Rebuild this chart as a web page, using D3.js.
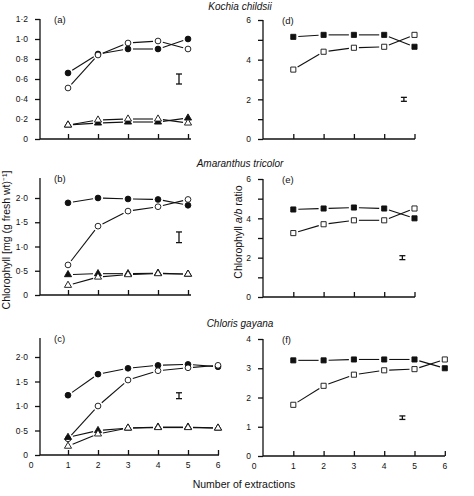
<!DOCTYPE html>
<html lang="en">
<head>
<meta charset="UTF-8">
<script src="https://d3js.org/d3.v7.min.js"></script>
<style>
body{margin:0;background:#fff}
text{font-family:"Liberation Sans",Arial,sans-serif;fill:#111}
</style>
</head>
<body>
<svg width="474" height="496"></svg>
<script>
// data
var extractions5 = [1, 2, 3, 4, 5];
var extractions6 = [1, 2, 3, 4, 5, 6];

var aTotalFresh = [0.66, 0.85, 0.90, 0.90, 1.00];
var aTotalFrozen = [0.51, 0.84, 0.96, 0.98, 0.90];
var aTriFilled = [0.14, 0.16, 0.17, 0.17, 0.21];
var aTriOpen = [0.14, 0.19, 0.20, 0.20, 0.16];

var bTotalFresh = [1.90, 2.00, 1.98, 1.97, 1.85];
var bTotalFrozen = [0.62, 1.42, 1.73, 1.82, 1.97];
var bTriFilled = [0.42, 0.44, 0.44, 0.45, 0.43];
var bTriOpen = [0.20, 0.37, 0.42, 0.44, 0.43];

var cTotalFresh = [1.22, 1.65, 1.77, 1.83, 1.85, 1.80];
var cTotalFrozen = [0.33, 1.00, 1.53, 1.72, 1.78, 1.83];
var cTriFilled = [0.36, 0.50, 0.55, 0.57, 0.57, 0.55];
var cTriOpen = [0.18, 0.43, 0.55, 0.56, 0.56, 0.55];

var dFilled = [5.15, 5.25, 5.25, 5.25, 4.65];
var dOpen = [3.50, 4.40, 4.60, 4.65, 5.25];
var eFilled = [4.45, 4.50, 4.55, 4.50, 4.00];
var eOpen = [3.25, 3.70, 3.90, 3.90, 4.50];
var fFilled = [3.27, 3.27, 3.30, 3.30, 3.30, 3.00];
var fOpen = [1.75, 2.40, 2.78, 2.93, 2.97, 3.30];

var errA = [4.7, 0.55, 0.65], errB = [4.7, 1.08, 1.30], errC = [4.7, 1.15, 1.27];
var errD = [4.65, 1.9, 2.1], errE = [4.6, 1.9, 2.1], errF = [4.6, 1.25, 1.37];

var svg = d3.select('svg');
var fmt = function (d) { return d === 0 ? '0' : d3.format('.1f')(d).replace('.', '\u00b7'); };
var even = function (d) { return d % 2 ? '' : d; };

var panels = [
  {lab:'(a)', x0:40, x1:191, top:19, bot:139, ymax:1.2, ymaxPx:19, ticks:[0,0.2,0.4,0.6,0.8,1.0,1.2], fmt:fmt, xs:extractions5, xlab:false,
   series:[[aTotalFresh,'circle',1],[aTotalFrozen,'circle',0],[aTriFilled,'tri',1],[aTriOpen,'tri',0]], err:errA, left:true},
  {lab:'(b)', x0:40, x1:191, top:178, bot:295, ymax:2.0, ymaxPx:198, ticks:[0,0.5,1.0,1.5,2.0], fmt:fmt, xs:extractions5, xlab:false,
   series:[[bTotalFresh,'circle',1],[bTotalFrozen,'circle',0],[bTriFilled,'tri',1],[bTriOpen,'tri',0]], err:errB, left:true},
  {lab:'(c)', x0:40, x1:219, top:338, bot:455, ymax:2.0, ymaxPx:357, ticks:[0,0.5,1.0,1.5,2.0], fmt:fmt, xs:extractions6, xlab:true,
   series:[[cTotalFresh,'circle',1],[cTotalFrozen,'circle',0],[cTriFilled,'tri',1],[cTriOpen,'tri',0]], err:errC, left:true},
  {lab:'(d)', x0:263, x1:415, top:20, bot:139, ymax:6, ymaxPx:20, ticks:[0,1,2,3,4,5,6], fmt:even, xs:extractions5, xlab:false,
   series:[[dFilled,'sq',1],[dOpen,'sq',0]], err:errD},
  {lab:'(e)', x0:263, x1:415, top:179, bot:297, ymax:6, ymaxPx:179, ticks:[0,1,2,3,4,5,6], fmt:even, xs:extractions5, xlab:false,
   series:[[eFilled,'sq',1],[eOpen,'sq',0]], err:errE},
  {lab:'(f)', x0:263, x1:445, top:339, bot:456, ymax:4, ymaxPx:339, ticks:[0,1,2,3,4], fmt:function(d){return d;}, xs:extractions6, xlab:true,
   series:[[fFilled,'sq',1],[fOpen,'sq',0]], err:errF}
];

panels.forEach(function (p) {
  var ox = p.left ? 38 : 263, unit = p.left ? 30 : 30.3;
  var x = d3.scaleLinear().domain([0, 1]).range([ox, ox + unit]);
  var y = d3.scaleLinear().domain([0, p.ymax]).range([p.bot, p.ymaxPx]);
  var g = svg.append('g');

  // y axis
  var yAx = g.append('g').attr('transform', 'translate(' + p.x0 + ',0)')
    .call(d3.axisLeft(y).tickValues(p.ticks).tickFormat(p.fmt).tickSize(5).tickPadding(7));
  yAx.select('.domain').attr('d', 'M0,' + p.top + 'V' + p.bot);
  // x axis (ticks pointing up)
  var xAx = g.append('g').attr('transform', 'translate(0,' + p.bot + ')')
    .call(d3.axisTop(x).tickValues(p.xs).tickSize(5).tickFormat(''));
  xAx.select('.domain').attr('d', 'M' + p.x0 + ',0H' + p.x1);
  g.selectAll('.domain, .tick line').attr('stroke', '#111').attr('stroke-width', 1.3);
  g.selectAll('.tick text').style('font-size', '8.5px').attr('fill', '#111');
  yAx.selectAll('.tick text').attr('dy', '0.32em');
  if (p.xlab) {
    g.selectAll('.xl').data([0].concat(p.xs)).enter().append('text')
      .attr('x', function (d) { return d === 0 ? p.x0 - 9 : x(d); })
      .attr('y', p.bot + 13).attr('text-anchor', 'middle').style('font-size', '8.5px').text(function (d) { return d; });
  }
  g.append('text').attr('x', p.left ? 54 : 282).attr('y', p.top + 4).style('font-size', '9.5px').text(p.lab);

  // lines with gaps near markers
  var gap = 5;
  p.series.forEach(function (s) {
    var pts = p.xs.map(function (v, i) { return [x(v), y(s[0][i])]; });
    for (var i = 0; i < pts.length - 1; i++) {
      var a = pts[i], b = pts[i + 1];
      var dx = b[0] - a[0], dy = b[1] - a[1], len = Math.sqrt(dx * dx + dy * dy);
      var ux = dx / len, uy = dy / len;
      g.append('line').attr('x1', a[0] + ux * gap).attr('y1', a[1] + uy * gap)
        .attr('x2', b[0] - ux * gap).attr('y2', b[1] - uy * gap)
        .attr('stroke', '#111').attr('stroke-width', 1.1);
    }
  });
  // markers
  p.series.forEach(function (s) {
    var fill = s[2] ? '#111' : '#fff';
    var sym = s[1] === 'circle' ? d3.symbolCircle : s[1] === 'tri' ? d3.symbolTriangle : d3.symbolSquare;
    var size = s[1] === 'tri' ? 22 : 26;
    g.selectAll(null).data(s[0]).enter().append('path')
      .attr('transform', function (d, i) { return 'translate(' + x(p.xs[i]) + ',' + y(d) + ')'; })
      .attr('d', d3.symbol().type(sym).size(size))
      .attr('fill', fill).attr('stroke', '#111').attr('stroke-width', 0.9);
  });
  // error bar
  var ex = x(p.err[0]);
  var eb = g.append('g').attr('stroke', '#111').attr('stroke-width', 1.3);
  eb.append('line').attr('x1', ex).attr('x2', ex).attr('y1', y(p.err[1])).attr('y2', y(p.err[2]));
  [p.err[1], p.err[2]].forEach(function (v) {
    eb.append('line').attr('x1', ex - 3).attr('x2', ex + 3).attr('y1', y(v)).attr('y2', y(v));
  });
});

// titles and axis labels
[['Kochia childsii', 10], ['Amaranthus tricolor', 167], ['Chloris gayana', 327]].forEach(function (t) {
  svg.append('text').attr('x', 240).attr('y', t[1]).attr('text-anchor', 'middle')
    .style('font-size', '10px').style('font-style', 'italic').text(t[0]);
});
svg.append('text').attr('transform', 'translate(10,240) rotate(-90)').attr('text-anchor', 'middle')
  .style('font-size', '10.5px').text('Chlorophyll [mg (g fresh wt)\u207b\u00b9]');
var rl = svg.append('text').attr('transform', 'translate(242,232) rotate(-90)').attr('text-anchor', 'middle').style('font-size', '10.5px');
rl.append('tspan').text('Chlorophyll ');
rl.append('tspan').style('font-style', 'italic').text('a/b');
rl.append('tspan').text(' ratio');
svg.append('text').attr('x', 244).attr('y', 488).attr('text-anchor', 'middle').style('font-size', '10.5px').text('Number of extractions');
</script>
</body>
</html>
